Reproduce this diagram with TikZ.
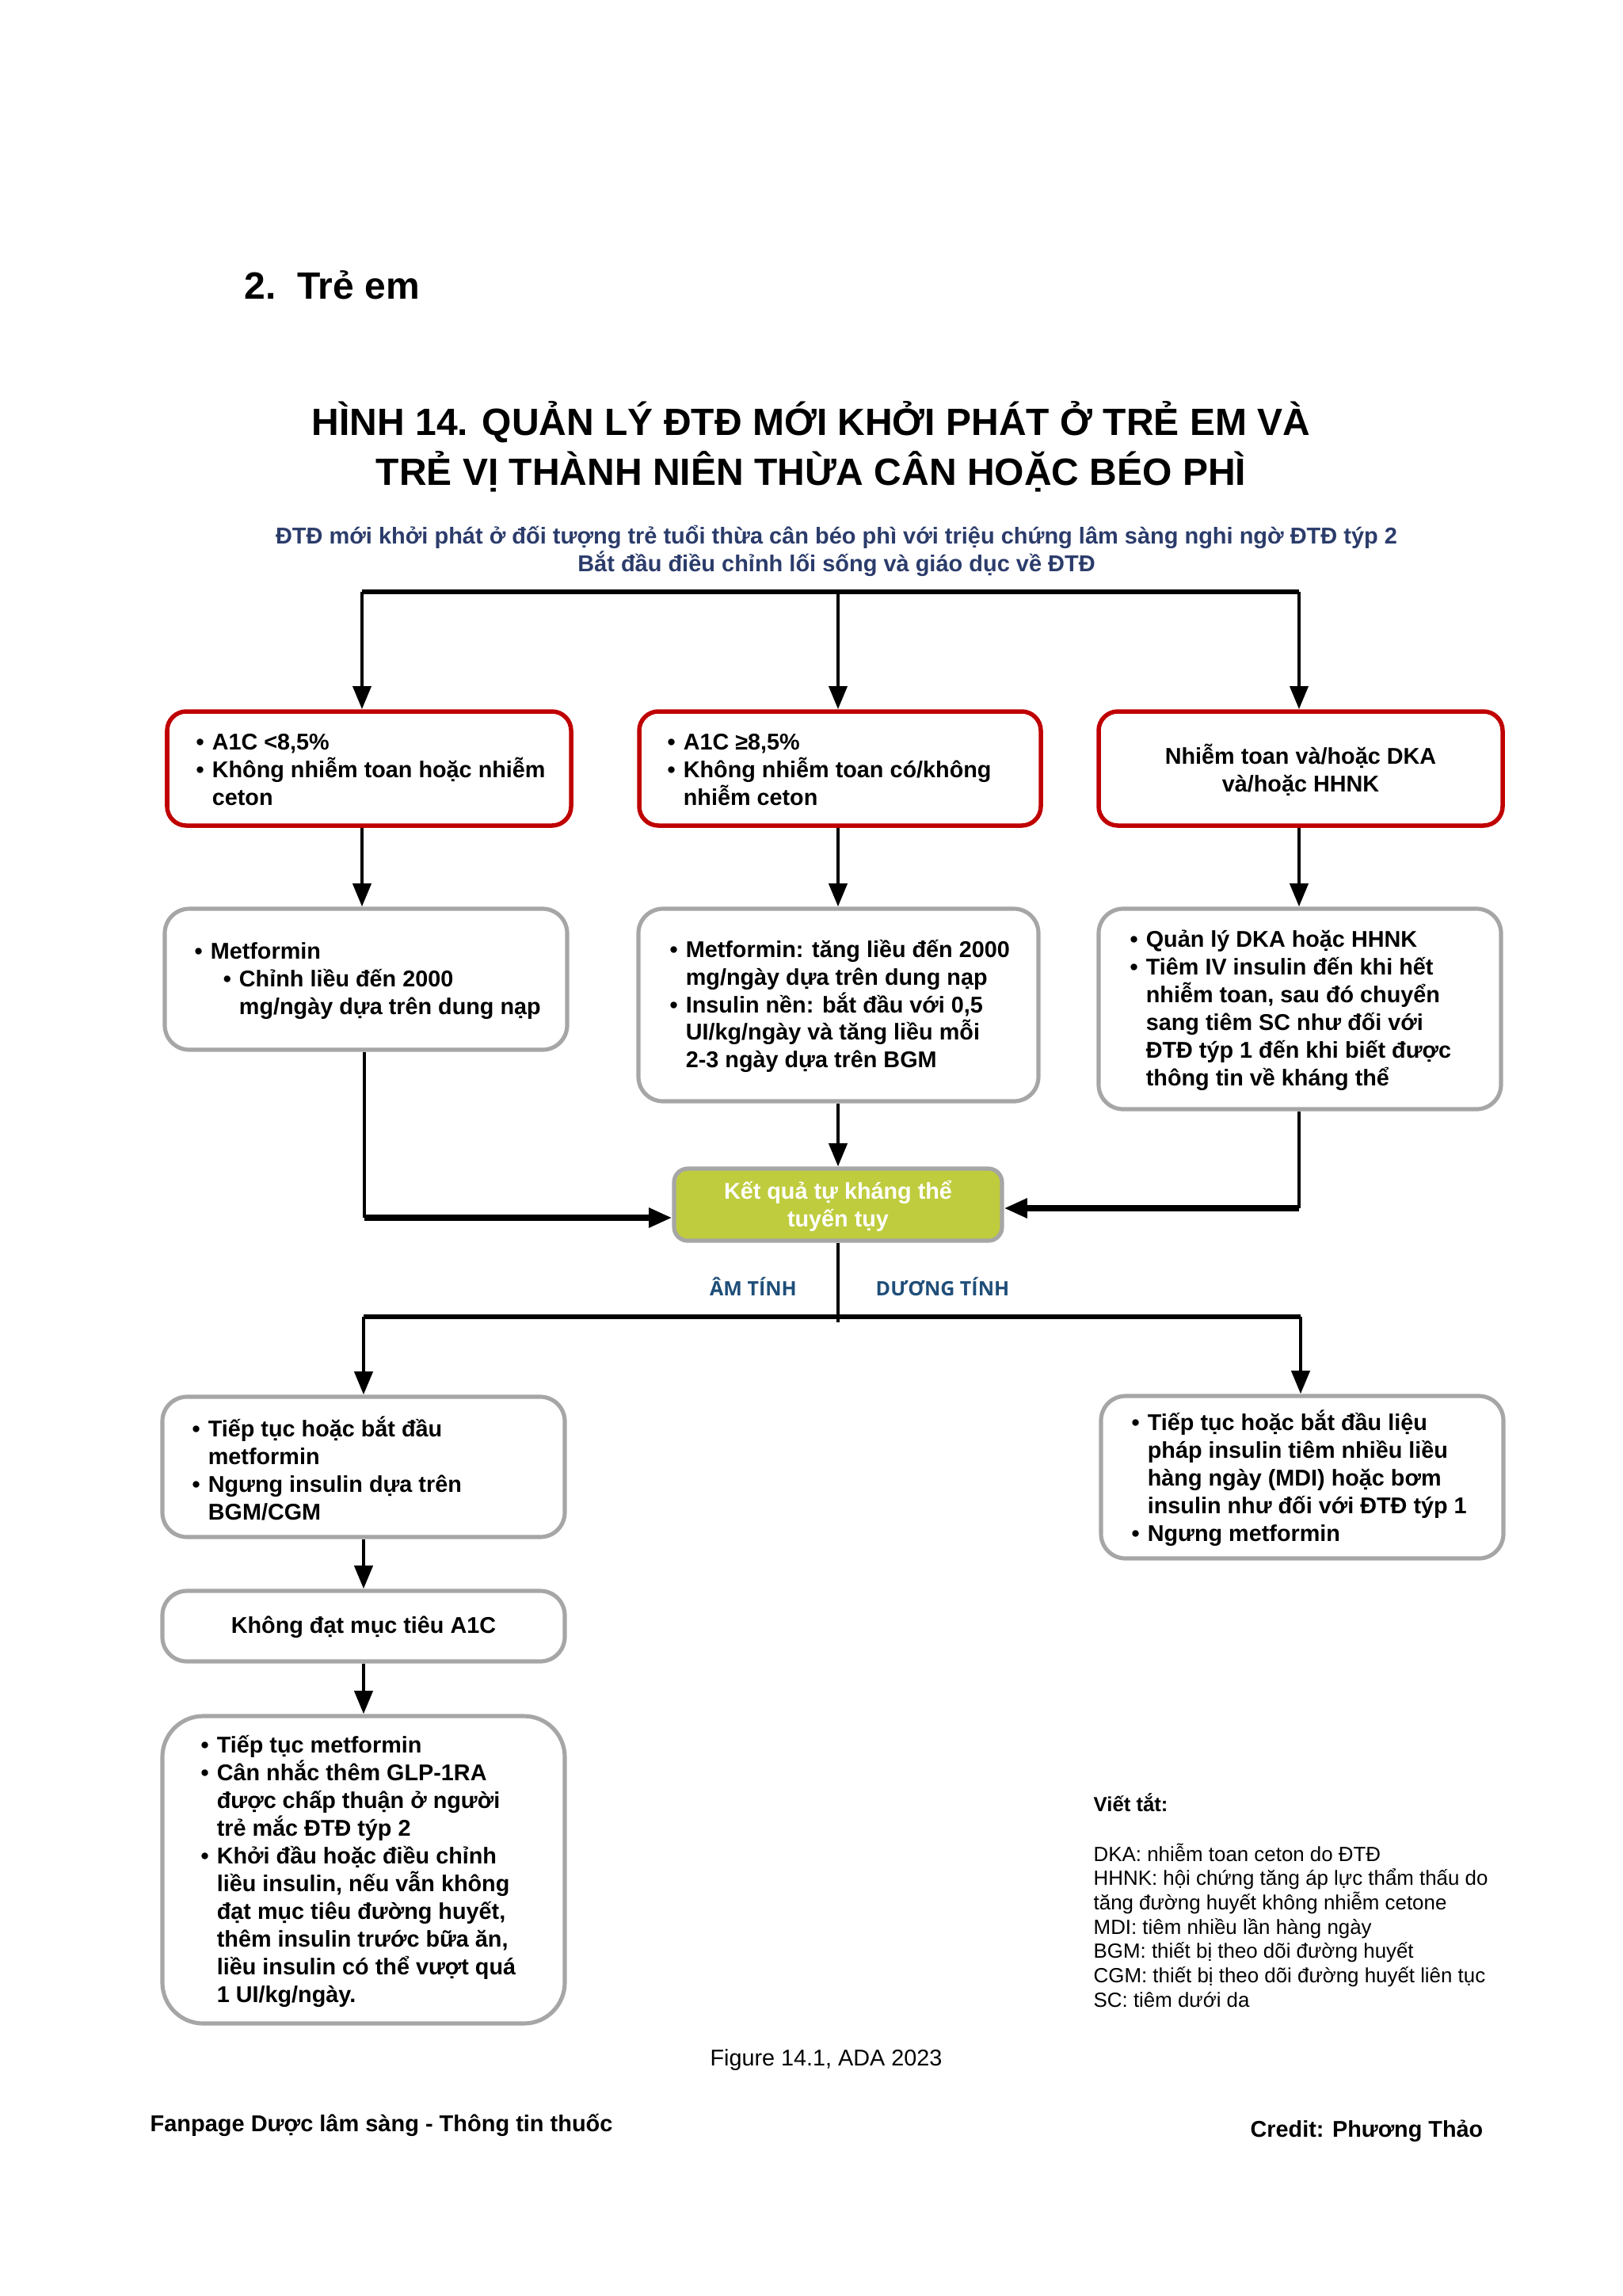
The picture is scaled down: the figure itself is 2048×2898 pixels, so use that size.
\documentclass[tikz,border=0pt]{standalone}
\usepackage{fontspec}
\setmainfont{Liberation Sans}
\newfontfamily\labfont{Open Sans}
\usetikzlibrary{arrows.meta,fit}
\definecolor{redb}{RGB}{192,0,0}
\definecolor{grayb}{RGB}{166,166,166}
\definecolor{greenf}{RGB}{191,204,62}
\definecolor{navy}{RGB}{43,60,107}
\definecolor{labblue}{RGB}{31,78,121}
\newcommand{\bu}{\makebox[0.7em][l]{\textbullet}}
\newcommand{\hg}{\makebox[0.7em]{}}
\begin{document}
\begin{tikzpicture}[x=0.290664bp,y=-0.290664bp,
  redbox/.style={draw=redb,line width=1.6bp,rounded corners=7bp,fill=white,inner sep=0pt},
  graybox/.style={draw=grayb,line width=1.5bp,rounded corners=9bp,fill=white,inner sep=0pt},
  txt/.style={anchor=west,align=left,inner sep=0pt,font=\fontsize{8.4}{10.2}\selectfont\bfseries},
  ctxt/.style={align=center,inner sep=0pt,font=\fontsize{8.4}{10.2}\selectfont\bfseries},
  arr/.style={line width=1.4bp,-{Triangle[length=8.5bp,width=6.6bp]}},
  thickarr/.style={line width=2.1bp,-{Triangle[length=8.5bp,width=6.8bp]}},
  thinline/.style={line width=1.4bp},
  bus/.style={line width=2bp},
  lab/.style={text=labblue,inner sep=0pt,font=\labfont\fontsize{7.3}{8.5}\selectfont\bfseries},
]
\useasboundingbox (0,0) rectangle (2048,2898);
\fill[white] (0,0) rectangle (2048,2898);

% headings
\node[anchor=west,inner sep=0pt,font=\fontsize{14}{17}\selectfont\bfseries] (sec) at (308,360) {2.\hspace{0.55em}Trẻ em};
\node[align=center,inner sep=0pt,font=\fontsize{14}{18.3}\selectfont\bfseries] (title) at (1024,564)
  {HÌNH 14. QUẢN LÝ ĐTĐ MỚI KHỞI PHÁT Ở TRẺ EM VÀ\\TRẺ VỊ THÀNH NIÊN THỪA CÂN HOẶC BÉO PHÌ};
\node[align=center,inner sep=0pt,text=navy,font=\fontsize{8.45}{10.2}\selectfont\bfseries] (sub) at (1056,695)
  {ĐTĐ mới khởi phát ở đối tượng trẻ tuổi thừa cân béo phì với triệu chứng lâm sàng nghi ngờ ĐTĐ týp 2\\Bắt đầu điều chỉnh lối sống và giáo dục về ĐTĐ};

% row 1
\node[redbox,fit={(211,898) (721,1042)}] (r1) {};
\node[txt] (r1t) at (247,972) {\bu A1C <8,5\%\\\bu Không nhiễm toan hoặc nhiễm\\\hg ceton};
\node[redbox,fit={(807,898) (1314,1042)}] (r2) {};
\node[txt] (r2t) at (842,972) {\bu A1C ≥8,5\%\\\bu Không nhiễm toan có/không\\\hg nhiễm ceton};
\node[redbox,fit={(1387,898) (1897,1042)}] (r3) {};
\node[ctxt] (r3t) at ([yshift=-0.5bp]r3.center) {Nhiễm toan và/hoặc DKA\\và/hoặc HHNK};

% row 2
\node[graybox,fit={(208,1147) (716,1325)}] (g1) {};
\node[txt] (g1t) at (245,1238) {\bu Metformin\\\hspace*{10.5bp}\bu Chỉnh liều đến 2000\\\hspace*{10.5bp}\hg mg/ngày dựa trên dung nạp};
\node[graybox,fit={(806,1147) (1311,1390)}] (g2) {};
\node[txt] (g2t) at (845,1270) {\bu Metformin: tăng liều đến 2000\\\hg mg/ngày dựa trên dung nạp\\\bu Insulin nền: bắt đầu với 0,5\\\hg UI/kg/ngày và tăng liều mỗi\\\hg 2-3 ngày dựa trên BGM};
\node[graybox,fit={(1387,1147) (1895,1400)}] (g3) {};
\node[txt] (g3t) at (1426,1275) {\bu Quản lý DKA hoặc HHNK\\\bu Tiêm IV insulin đến khi hết\\\hg nhiễm toan, sau đó chuyển\\\hg sang tiêm SC như đối với\\\hg ĐTĐ týp 1 đến khi biết được\\\hg thông tin về kháng thể};

% antibody box
\node[fill=greenf,draw=grayb,line width=1.5bp,rounded corners=5bp,inner sep=0pt,fit={(851,1475) (1265,1566)}] (ab) {};
\node[ctxt,text=white] (abt) at ([yshift=-0.5bp]ab.center) {Kết quả tự kháng thể\\tuyến tụy};
\node[lab] (neg) at (951,1624) {ÂM TÍNH};
\node[lab] (pos) at (1190,1624) {DƯƠNG TÍNH};

% row 3
\node[graybox,fit={(205,1763) (713,1940)}] (n1) {};
\node[txt] (n1t) at (242,1853) {\bu Tiếp tục hoặc bắt đầu\\\hg metformin\\\bu Ngưng insulin dựa trên\\\hg BGM/CGM};
\node[graybox,fit={(1390,1762) (1898,1967)}] (p1) {};
\node[txt] (p1t) at (1428,1866) {\bu Tiếp tục hoặc bắt đầu liệu\\\hg pháp insulin tiêm nhiều liều\\\hg hàng ngày (MDI) hoặc bơm\\\hg insulin như đối với ĐTĐ týp 1\\\bu Ngưng metformin};
\node[graybox,fit={(205,2008) (713,2097)}] (n2) {};
\node[ctxt] (n2t) at ([yshift=-0.5bp]n2.center) {Không đạt mục tiêu A1C};
\node[graybox,rounded corners=15bp,fit={(205,2166) (713,2554)}] (n3) {};
\node[txt] (n3t) at (253,2362) {\bu Tiếp tục metformin\\\bu Cân nhắc thêm GLP-1RA\\\hg được chấp thuận ở người\\\hg trẻ mắc ĐTĐ týp 2\\\bu Khởi đầu hoặc điều chỉnh\\\hg liều insulin, nếu vẫn không\\\hg đạt mục tiêu đường huyết,\\\hg thêm insulin trước bữa ăn,\\\hg liều insulin có thể vượt quá\\\hg 1 UI/kg/ngày.};

% abbreviations
\node[anchor=west,inner sep=0pt,font=\fontsize{7.5}{9}\selectfont\bfseries] (vt) at (1380,2275) {Viết tắt:};
\node[anchor=west,align=left,inner sep=0pt,font=\fontsize{7.55}{8.95}\selectfont] (abbr) at (1380,2430)
  {DKA: nhiễm toan ceton do ĐTĐ\\HHNK: hội chứng tăng áp lực thẩm thấu do\\tăng đường huyết không nhiễm cetone\\MDI: tiêm nhiều lần hàng ngày\\BGM: thiết bị theo dõi đường huyết\\CGM: thiết bị theo dõi đường huyết liên tục\\SC: tiêm dưới da};

% footer
\node[inner sep=0pt,font=\fontsize{8.4}{10}\selectfont] (fig) at (1043,2600) {Figure 14.1, ADA 2023};
\node[anchor=west,inner sep=0pt,font=\fontsize{8.45}{10}\selectfont\bfseries] (fp) at (189,2682) {Fanpage Dược lâm sàng - Thông tin thuốc};
\node[anchor=west,inner sep=0pt,font=\fontsize{8.4}{10}\selectfont\bfseries] (cr) at (1578,2690) {Credit: Phương Thảo};

% connectors
\coordinate (busL) at (457,747);
\coordinate (busM) at (1058,747);
\coordinate (busR) at (1640,747);
\draw[bus] (busL) -- (busR);
\draw[arr] (busL) -- (busL |- r1.north);
\draw[arr] (busM) -- (busM |- r2.north);
\draw[arr] (busR) -- (busR |- r3.north);
\draw[arr] (busL |- r1.south) -- (busL |- g1.north);
\draw[arr] (busM |- r2.south) -- (busM |- g2.north);
\draw[arr] (busR |- r3.south) -- (busR |- g3.north);
\draw[arr] (busM |- g2.south) -- (busM |- ab.north);

\coordinate (jL) at (460,1537);
\coordinate (jR) at (1640,1525);
\draw[thinline] (jL |- g1.south) -- (jL);
\draw[thickarr] (jL) -- (jL -| ab.west);
\draw[thinline] (jR |- g3.south) -- (jR);
\draw[thickarr] (jR) -- (jR -| ab.east);

\coordinate (bL) at (459,1662);
\coordinate (bR) at (1642,1662);
\draw[thinline] (ab.south) -- ([yshift=-2bp]ab.south |- bL);
\draw[bus] (bL) -- (bR);
\draw[arr] (bL) -- (bL |- n1.north);
\draw[arr] (bR) -- (bR |- p1.north);
\draw[arr] (n1.south) -- (n2.north);
\draw[arr] (n2.south) -- (n3.north);
\end{tikzpicture}
\end{document}
